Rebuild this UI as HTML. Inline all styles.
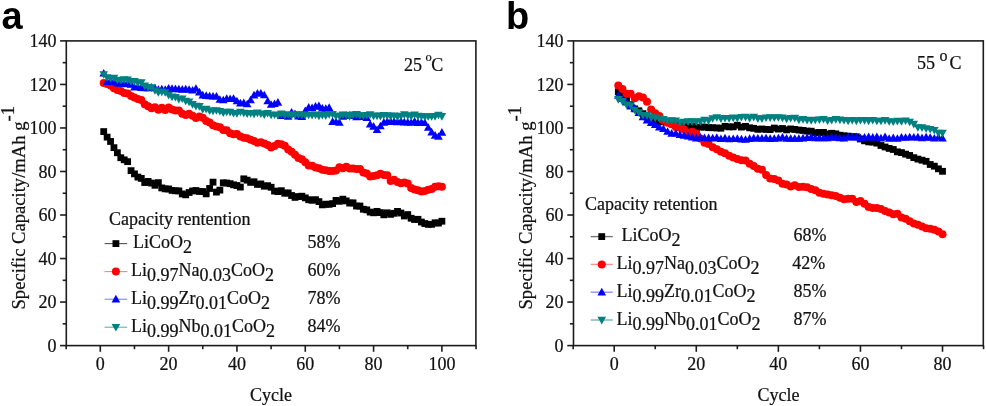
<!DOCTYPE html><html><head><meta charset="utf-8"><style>html,body{margin:0;padding:0;background:#fff;}svg{display:block;will-change:transform;}</style></head><body><svg width="986" height="406" viewBox="0 0 986 406" font-family="Liberation Serif, serif" font-size="18" fill="#111" stroke="#111" stroke-width="0.22"><rect width="986" height="406" fill="#fff" stroke="none"/><text x="1.4" y="28.8" font-family="Liberation Sans, sans-serif" font-weight="bold" font-size="38" fill="#000" stroke="none">a</text><text x="505.9" y="28.8" font-family="Liberation Sans, sans-serif" font-weight="bold" font-size="38" fill="#000" stroke="none">b</text><rect x="100.32" y="128.18" width="6.8" height="6.8" fill="#000000" stroke="none"/><rect x="103.73" y="133.73" width="6.8" height="6.8" fill="#000000" stroke="none"/><rect x="107.15" y="138.06" width="6.8" height="6.8" fill="#000000" stroke="none"/><rect x="110.56" y="144.25" width="6.8" height="6.8" fill="#000000" stroke="none"/><rect x="113.98" y="149.34" width="6.8" height="6.8" fill="#000000" stroke="none"/><rect x="117.40" y="154.33" width="6.8" height="6.8" fill="#000000" stroke="none"/><rect x="120.81" y="156.42" width="6.8" height="6.8" fill="#000000" stroke="none"/><rect x="124.23" y="158.26" width="6.8" height="6.8" fill="#000000" stroke="none"/><rect x="127.64" y="167.25" width="6.8" height="6.8" fill="#000000" stroke="none"/><rect x="131.06" y="170.46" width="6.8" height="6.8" fill="#000000" stroke="none"/><rect x="134.48" y="173.68" width="6.8" height="6.8" fill="#000000" stroke="none"/><rect x="137.89" y="175.00" width="6.8" height="6.8" fill="#000000" stroke="none"/><rect x="141.31" y="179.13" width="6.8" height="6.8" fill="#000000" stroke="none"/><rect x="144.72" y="178.02" width="6.8" height="6.8" fill="#000000" stroke="none"/><rect x="148.14" y="179.68" width="6.8" height="6.8" fill="#000000" stroke="none"/><rect x="151.56" y="181.89" width="6.8" height="6.8" fill="#000000" stroke="none"/><rect x="154.97" y="179.24" width="6.8" height="6.8" fill="#000000" stroke="none"/><rect x="158.39" y="184.52" width="6.8" height="6.8" fill="#000000" stroke="none"/><rect x="161.80" y="185.46" width="6.8" height="6.8" fill="#000000" stroke="none"/><rect x="165.22" y="185.58" width="6.8" height="6.8" fill="#000000" stroke="none"/><rect x="168.64" y="186.98" width="6.8" height="6.8" fill="#000000" stroke="none"/><rect x="172.05" y="187.41" width="6.8" height="6.8" fill="#000000" stroke="none"/><rect x="175.47" y="187.48" width="6.8" height="6.8" fill="#000000" stroke="none"/><rect x="178.88" y="190.54" width="6.8" height="6.8" fill="#000000" stroke="none"/><rect x="182.30" y="191.45" width="6.8" height="6.8" fill="#000000" stroke="none"/><rect x="185.72" y="189.11" width="6.8" height="6.8" fill="#000000" stroke="none"/><rect x="189.13" y="187.58" width="6.8" height="6.8" fill="#000000" stroke="none"/><rect x="192.55" y="187.13" width="6.8" height="6.8" fill="#000000" stroke="none"/><rect x="195.96" y="188.07" width="6.8" height="6.8" fill="#000000" stroke="none"/><rect x="199.38" y="188.15" width="6.8" height="6.8" fill="#000000" stroke="none"/><rect x="202.80" y="190.44" width="6.8" height="6.8" fill="#000000" stroke="none"/><rect x="206.21" y="185.07" width="6.8" height="6.8" fill="#000000" stroke="none"/><rect x="209.63" y="178.75" width="6.8" height="6.8" fill="#000000" stroke="none"/><rect x="213.04" y="188.70" width="6.8" height="6.8" fill="#000000" stroke="none"/><rect x="216.46" y="186.72" width="6.8" height="6.8" fill="#000000" stroke="none"/><rect x="219.88" y="179.43" width="6.8" height="6.8" fill="#000000" stroke="none"/><rect x="223.29" y="179.63" width="6.8" height="6.8" fill="#000000" stroke="none"/><rect x="226.71" y="180.29" width="6.8" height="6.8" fill="#000000" stroke="none"/><rect x="230.12" y="181.41" width="6.8" height="6.8" fill="#000000" stroke="none"/><rect x="233.54" y="182.14" width="6.8" height="6.8" fill="#000000" stroke="none"/><rect x="236.96" y="183.67" width="6.8" height="6.8" fill="#000000" stroke="none"/><rect x="240.37" y="175.44" width="6.8" height="6.8" fill="#000000" stroke="none"/><rect x="243.79" y="176.78" width="6.8" height="6.8" fill="#000000" stroke="none"/><rect x="247.20" y="178.97" width="6.8" height="6.8" fill="#000000" stroke="none"/><rect x="250.62" y="178.37" width="6.8" height="6.8" fill="#000000" stroke="none"/><rect x="254.04" y="181.01" width="6.8" height="6.8" fill="#000000" stroke="none"/><rect x="257.45" y="180.52" width="6.8" height="6.8" fill="#000000" stroke="none"/><rect x="260.87" y="182.80" width="6.8" height="6.8" fill="#000000" stroke="none"/><rect x="264.28" y="182.29" width="6.8" height="6.8" fill="#000000" stroke="none"/><rect x="267.70" y="183.86" width="6.8" height="6.8" fill="#000000" stroke="none"/><rect x="271.12" y="187.67" width="6.8" height="6.8" fill="#000000" stroke="none"/><rect x="274.53" y="188.23" width="6.8" height="6.8" fill="#000000" stroke="none"/><rect x="277.95" y="187.29" width="6.8" height="6.8" fill="#000000" stroke="none"/><rect x="281.36" y="189.83" width="6.8" height="6.8" fill="#000000" stroke="none"/><rect x="284.78" y="189.47" width="6.8" height="6.8" fill="#000000" stroke="none"/><rect x="288.20" y="192.12" width="6.8" height="6.8" fill="#000000" stroke="none"/><rect x="291.61" y="193.98" width="6.8" height="6.8" fill="#000000" stroke="none"/><rect x="295.03" y="193.16" width="6.8" height="6.8" fill="#000000" stroke="none"/><rect x="298.44" y="192.81" width="6.8" height="6.8" fill="#000000" stroke="none"/><rect x="301.86" y="194.47" width="6.8" height="6.8" fill="#000000" stroke="none"/><rect x="305.28" y="196.33" width="6.8" height="6.8" fill="#000000" stroke="none"/><rect x="308.69" y="196.89" width="6.8" height="6.8" fill="#000000" stroke="none"/><rect x="312.11" y="196.27" width="6.8" height="6.8" fill="#000000" stroke="none"/><rect x="315.52" y="198.20" width="6.8" height="6.8" fill="#000000" stroke="none"/><rect x="318.94" y="201.46" width="6.8" height="6.8" fill="#000000" stroke="none"/><rect x="322.36" y="200.77" width="6.8" height="6.8" fill="#000000" stroke="none"/><rect x="325.77" y="200.92" width="6.8" height="6.8" fill="#000000" stroke="none"/><rect x="329.19" y="200.21" width="6.8" height="6.8" fill="#000000" stroke="none"/><rect x="332.60" y="196.99" width="6.8" height="6.8" fill="#000000" stroke="none"/><rect x="336.02" y="197.90" width="6.8" height="6.8" fill="#000000" stroke="none"/><rect x="339.44" y="195.76" width="6.8" height="6.8" fill="#000000" stroke="none"/><rect x="342.85" y="197.50" width="6.8" height="6.8" fill="#000000" stroke="none"/><rect x="346.27" y="199.68" width="6.8" height="6.8" fill="#000000" stroke="none"/><rect x="349.68" y="199.43" width="6.8" height="6.8" fill="#000000" stroke="none"/><rect x="353.10" y="202.66" width="6.8" height="6.8" fill="#000000" stroke="none"/><rect x="356.52" y="202.64" width="6.8" height="6.8" fill="#000000" stroke="none"/><rect x="359.93" y="205.83" width="6.8" height="6.8" fill="#000000" stroke="none"/><rect x="363.35" y="206.48" width="6.8" height="6.8" fill="#000000" stroke="none"/><rect x="366.76" y="208.69" width="6.8" height="6.8" fill="#000000" stroke="none"/><rect x="370.18" y="209.40" width="6.8" height="6.8" fill="#000000" stroke="none"/><rect x="373.60" y="207.97" width="6.8" height="6.8" fill="#000000" stroke="none"/><rect x="377.01" y="209.19" width="6.8" height="6.8" fill="#000000" stroke="none"/><rect x="380.43" y="211.42" width="6.8" height="6.8" fill="#000000" stroke="none"/><rect x="383.84" y="209.40" width="6.8" height="6.8" fill="#000000" stroke="none"/><rect x="387.26" y="210.96" width="6.8" height="6.8" fill="#000000" stroke="none"/><rect x="390.68" y="209.91" width="6.8" height="6.8" fill="#000000" stroke="none"/><rect x="394.09" y="208.02" width="6.8" height="6.8" fill="#000000" stroke="none"/><rect x="397.51" y="209.62" width="6.8" height="6.8" fill="#000000" stroke="none"/><rect x="400.92" y="212.57" width="6.8" height="6.8" fill="#000000" stroke="none"/><rect x="404.34" y="211.17" width="6.8" height="6.8" fill="#000000" stroke="none"/><rect x="407.76" y="214.84" width="6.8" height="6.8" fill="#000000" stroke="none"/><rect x="411.17" y="216.08" width="6.8" height="6.8" fill="#000000" stroke="none"/><rect x="414.59" y="215.91" width="6.8" height="6.8" fill="#000000" stroke="none"/><rect x="418.00" y="218.65" width="6.8" height="6.8" fill="#000000" stroke="none"/><rect x="421.42" y="220.15" width="6.8" height="6.8" fill="#000000" stroke="none"/><rect x="424.84" y="220.97" width="6.8" height="6.8" fill="#000000" stroke="none"/><rect x="428.25" y="220.92" width="6.8" height="6.8" fill="#000000" stroke="none"/><rect x="431.67" y="219.41" width="6.8" height="6.8" fill="#000000" stroke="none"/><rect x="435.08" y="219.69" width="6.8" height="6.8" fill="#000000" stroke="none"/><rect x="438.50" y="217.83" width="6.8" height="6.8" fill="#000000" stroke="none"/><circle cx="103.72" cy="82.97" r="4.0" fill="#ff0000" stroke="none"/><circle cx="107.13" cy="84.02" r="4.0" fill="#ff0000" stroke="none"/><circle cx="110.55" cy="85.52" r="4.0" fill="#ff0000" stroke="none"/><circle cx="113.96" cy="88.30" r="4.0" fill="#ff0000" stroke="none"/><circle cx="117.38" cy="90.06" r="4.0" fill="#ff0000" stroke="none"/><circle cx="120.80" cy="90.92" r="4.0" fill="#ff0000" stroke="none"/><circle cx="124.21" cy="93.00" r="4.0" fill="#ff0000" stroke="none"/><circle cx="127.63" cy="93.41" r="4.0" fill="#ff0000" stroke="none"/><circle cx="131.04" cy="95.90" r="4.0" fill="#ff0000" stroke="none"/><circle cx="134.46" cy="97.51" r="4.0" fill="#ff0000" stroke="none"/><circle cx="137.88" cy="99.00" r="4.0" fill="#ff0000" stroke="none"/><circle cx="141.29" cy="100.11" r="4.0" fill="#ff0000" stroke="none"/><circle cx="144.71" cy="104.29" r="4.0" fill="#ff0000" stroke="none"/><circle cx="148.12" cy="106.35" r="4.0" fill="#ff0000" stroke="none"/><circle cx="151.54" cy="108.16" r="4.0" fill="#ff0000" stroke="none"/><circle cx="154.96" cy="107.31" r="4.0" fill="#ff0000" stroke="none"/><circle cx="158.37" cy="109.67" r="4.0" fill="#ff0000" stroke="none"/><circle cx="161.79" cy="107.83" r="4.0" fill="#ff0000" stroke="none"/><circle cx="165.20" cy="109.92" r="4.0" fill="#ff0000" stroke="none"/><circle cx="168.62" cy="107.45" r="4.0" fill="#ff0000" stroke="none"/><circle cx="172.04" cy="109.52" r="4.0" fill="#ff0000" stroke="none"/><circle cx="175.45" cy="110.50" r="4.0" fill="#ff0000" stroke="none"/><circle cx="178.87" cy="110.52" r="4.0" fill="#ff0000" stroke="none"/><circle cx="182.28" cy="113.83" r="4.0" fill="#ff0000" stroke="none"/><circle cx="185.70" cy="114.88" r="4.0" fill="#ff0000" stroke="none"/><circle cx="189.12" cy="113.81" r="4.0" fill="#ff0000" stroke="none"/><circle cx="192.53" cy="115.87" r="4.0" fill="#ff0000" stroke="none"/><circle cx="195.95" cy="117.96" r="4.0" fill="#ff0000" stroke="none"/><circle cx="199.36" cy="116.62" r="4.0" fill="#ff0000" stroke="none"/><circle cx="202.78" cy="117.72" r="4.0" fill="#ff0000" stroke="none"/><circle cx="206.20" cy="121.12" r="4.0" fill="#ff0000" stroke="none"/><circle cx="209.61" cy="122.40" r="4.0" fill="#ff0000" stroke="none"/><circle cx="213.03" cy="125.25" r="4.0" fill="#ff0000" stroke="none"/><circle cx="216.44" cy="126.59" r="4.0" fill="#ff0000" stroke="none"/><circle cx="219.86" cy="127.31" r="4.0" fill="#ff0000" stroke="none"/><circle cx="223.28" cy="130.02" r="4.0" fill="#ff0000" stroke="none"/><circle cx="226.69" cy="130.15" r="4.0" fill="#ff0000" stroke="none"/><circle cx="230.11" cy="133.31" r="4.0" fill="#ff0000" stroke="none"/><circle cx="233.52" cy="134.34" r="4.0" fill="#ff0000" stroke="none"/><circle cx="236.94" cy="133.99" r="4.0" fill="#ff0000" stroke="none"/><circle cx="240.36" cy="136.41" r="4.0" fill="#ff0000" stroke="none"/><circle cx="243.77" cy="137.70" r="4.0" fill="#ff0000" stroke="none"/><circle cx="247.19" cy="138.31" r="4.0" fill="#ff0000" stroke="none"/><circle cx="250.60" cy="139.63" r="4.0" fill="#ff0000" stroke="none"/><circle cx="254.02" cy="140.89" r="4.0" fill="#ff0000" stroke="none"/><circle cx="257.44" cy="142.82" r="4.0" fill="#ff0000" stroke="none"/><circle cx="260.85" cy="142.35" r="4.0" fill="#ff0000" stroke="none"/><circle cx="264.27" cy="143.40" r="4.0" fill="#ff0000" stroke="none"/><circle cx="267.68" cy="145.06" r="4.0" fill="#ff0000" stroke="none"/><circle cx="271.10" cy="147.55" r="4.0" fill="#ff0000" stroke="none"/><circle cx="274.52" cy="146.07" r="4.0" fill="#ff0000" stroke="none"/><circle cx="277.93" cy="143.77" r="4.0" fill="#ff0000" stroke="none"/><circle cx="281.35" cy="144.33" r="4.0" fill="#ff0000" stroke="none"/><circle cx="284.76" cy="145.79" r="4.0" fill="#ff0000" stroke="none"/><circle cx="288.18" cy="149.61" r="4.0" fill="#ff0000" stroke="none"/><circle cx="291.60" cy="151.65" r="4.0" fill="#ff0000" stroke="none"/><circle cx="295.01" cy="154.77" r="4.0" fill="#ff0000" stroke="none"/><circle cx="298.43" cy="157.95" r="4.0" fill="#ff0000" stroke="none"/><circle cx="301.84" cy="159.29" r="4.0" fill="#ff0000" stroke="none"/><circle cx="305.26" cy="162.23" r="4.0" fill="#ff0000" stroke="none"/><circle cx="308.68" cy="165.59" r="4.0" fill="#ff0000" stroke="none"/><circle cx="312.09" cy="165.64" r="4.0" fill="#ff0000" stroke="none"/><circle cx="315.51" cy="167.53" r="4.0" fill="#ff0000" stroke="none"/><circle cx="318.92" cy="168.17" r="4.0" fill="#ff0000" stroke="none"/><circle cx="322.34" cy="169.82" r="4.0" fill="#ff0000" stroke="none"/><circle cx="325.76" cy="170.15" r="4.0" fill="#ff0000" stroke="none"/><circle cx="329.17" cy="171.12" r="4.0" fill="#ff0000" stroke="none"/><circle cx="332.59" cy="170.99" r="4.0" fill="#ff0000" stroke="none"/><circle cx="336.00" cy="170.56" r="4.0" fill="#ff0000" stroke="none"/><circle cx="339.42" cy="167.22" r="4.0" fill="#ff0000" stroke="none"/><circle cx="342.84" cy="168.19" r="4.0" fill="#ff0000" stroke="none"/><circle cx="346.25" cy="166.84" r="4.0" fill="#ff0000" stroke="none"/><circle cx="349.67" cy="168.56" r="4.0" fill="#ff0000" stroke="none"/><circle cx="353.08" cy="168.59" r="4.0" fill="#ff0000" stroke="none"/><circle cx="356.50" cy="169.06" r="4.0" fill="#ff0000" stroke="none"/><circle cx="359.92" cy="168.95" r="4.0" fill="#ff0000" stroke="none"/><circle cx="363.33" cy="172.58" r="4.0" fill="#ff0000" stroke="none"/><circle cx="366.75" cy="173.62" r="4.0" fill="#ff0000" stroke="none"/><circle cx="370.16" cy="176.38" r="4.0" fill="#ff0000" stroke="none"/><circle cx="373.58" cy="176.00" r="4.0" fill="#ff0000" stroke="none"/><circle cx="377.00" cy="175.30" r="4.0" fill="#ff0000" stroke="none"/><circle cx="380.41" cy="173.84" r="4.0" fill="#ff0000" stroke="none"/><circle cx="383.83" cy="174.90" r="4.0" fill="#ff0000" stroke="none"/><circle cx="387.24" cy="175.37" r="4.0" fill="#ff0000" stroke="none"/><circle cx="390.66" cy="181.06" r="4.0" fill="#ff0000" stroke="none"/><circle cx="394.08" cy="179.81" r="4.0" fill="#ff0000" stroke="none"/><circle cx="397.49" cy="182.00" r="4.0" fill="#ff0000" stroke="none"/><circle cx="400.91" cy="183.18" r="4.0" fill="#ff0000" stroke="none"/><circle cx="404.32" cy="182.44" r="4.0" fill="#ff0000" stroke="none"/><circle cx="407.74" cy="183.47" r="4.0" fill="#ff0000" stroke="none"/><circle cx="411.16" cy="188.01" r="4.0" fill="#ff0000" stroke="none"/><circle cx="414.57" cy="189.50" r="4.0" fill="#ff0000" stroke="none"/><circle cx="417.99" cy="190.37" r="4.0" fill="#ff0000" stroke="none"/><circle cx="421.40" cy="191.49" r="4.0" fill="#ff0000" stroke="none"/><circle cx="424.82" cy="190.88" r="4.0" fill="#ff0000" stroke="none"/><circle cx="428.24" cy="189.75" r="4.0" fill="#ff0000" stroke="none"/><circle cx="431.65" cy="189.01" r="4.0" fill="#ff0000" stroke="none"/><circle cx="435.07" cy="186.85" r="4.0" fill="#ff0000" stroke="none"/><circle cx="438.48" cy="186.33" r="4.0" fill="#ff0000" stroke="none"/><circle cx="441.90" cy="186.72" r="4.0" fill="#ff0000" stroke="none"/><path d="M103.72 69.01L108.02 76.61L99.42 76.61Z" fill="#0000ff" stroke="none"/><path d="M107.13 77.44L111.43 85.04L102.83 85.04Z" fill="#0000ff" stroke="none"/><path d="M110.55 77.59L114.85 85.19L106.25 85.19Z" fill="#0000ff" stroke="none"/><path d="M113.96 77.37L118.26 84.97L109.66 84.97Z" fill="#0000ff" stroke="none"/><path d="M117.38 78.96L121.68 86.56L113.08 86.56Z" fill="#0000ff" stroke="none"/><path d="M120.80 79.08L125.10 86.68L116.50 86.68Z" fill="#0000ff" stroke="none"/><path d="M124.21 79.48L128.51 87.08L119.91 87.08Z" fill="#0000ff" stroke="none"/><path d="M127.63 79.53L131.93 87.13L123.33 87.13Z" fill="#0000ff" stroke="none"/><path d="M131.04 80.06L135.34 87.66L126.74 87.66Z" fill="#0000ff" stroke="none"/><path d="M134.46 83.00L138.76 90.60L130.16 90.60Z" fill="#0000ff" stroke="none"/><path d="M137.88 82.43L142.18 90.03L133.58 90.03Z" fill="#0000ff" stroke="none"/><path d="M141.29 83.43L145.59 91.03L136.99 91.03Z" fill="#0000ff" stroke="none"/><path d="M144.71 83.56L149.01 91.16L140.41 91.16Z" fill="#0000ff" stroke="none"/><path d="M148.12 83.56L152.42 91.16L143.82 91.16Z" fill="#0000ff" stroke="none"/><path d="M151.54 82.99L155.84 90.59L147.24 90.59Z" fill="#0000ff" stroke="none"/><path d="M154.96 83.70L159.26 91.30L150.66 91.30Z" fill="#0000ff" stroke="none"/><path d="M158.37 85.21L162.67 92.81L154.07 92.81Z" fill="#0000ff" stroke="none"/><path d="M161.79 84.86L166.09 92.46L157.49 92.46Z" fill="#0000ff" stroke="none"/><path d="M165.20 85.36L169.50 92.96L160.90 92.96Z" fill="#0000ff" stroke="none"/><path d="M168.62 84.00L172.92 91.60L164.32 91.60Z" fill="#0000ff" stroke="none"/><path d="M172.04 84.35L176.34 91.95L167.74 91.95Z" fill="#0000ff" stroke="none"/><path d="M175.45 84.58L179.75 92.18L171.15 92.18Z" fill="#0000ff" stroke="none"/><path d="M178.87 84.70L183.17 92.30L174.57 92.30Z" fill="#0000ff" stroke="none"/><path d="M182.28 85.04L186.58 92.64L177.98 92.64Z" fill="#0000ff" stroke="none"/><path d="M185.70 84.76L190.00 92.36L181.40 92.36Z" fill="#0000ff" stroke="none"/><path d="M189.12 85.26L193.42 92.86L184.82 92.86Z" fill="#0000ff" stroke="none"/><path d="M192.53 85.99L196.83 93.59L188.23 93.59Z" fill="#0000ff" stroke="none"/><path d="M195.95 84.26L200.25 91.86L191.65 91.86Z" fill="#0000ff" stroke="none"/><path d="M199.36 87.81L203.66 95.41L195.06 95.41Z" fill="#0000ff" stroke="none"/><path d="M202.78 90.82L207.08 98.42L198.48 98.42Z" fill="#0000ff" stroke="none"/><path d="M206.20 91.34L210.50 98.94L201.90 98.94Z" fill="#0000ff" stroke="none"/><path d="M209.61 91.73L213.91 99.33L205.31 99.33Z" fill="#0000ff" stroke="none"/><path d="M213.03 91.97L217.33 99.57L208.73 99.57Z" fill="#0000ff" stroke="none"/><path d="M216.44 91.93L220.74 99.53L212.14 99.53Z" fill="#0000ff" stroke="none"/><path d="M219.86 95.23L224.16 102.83L215.56 102.83Z" fill="#0000ff" stroke="none"/><path d="M223.28 95.75L227.58 103.35L218.98 103.35Z" fill="#0000ff" stroke="none"/><path d="M226.69 94.32L230.99 101.92L222.39 101.92Z" fill="#0000ff" stroke="none"/><path d="M230.11 94.46L234.41 102.06L225.81 102.06Z" fill="#0000ff" stroke="none"/><path d="M233.52 94.15L237.82 101.75L229.22 101.75Z" fill="#0000ff" stroke="none"/><path d="M236.94 96.69L241.24 104.29L232.64 104.29Z" fill="#0000ff" stroke="none"/><path d="M240.36 98.84L244.66 106.44L236.06 106.44Z" fill="#0000ff" stroke="none"/><path d="M243.77 98.41L248.07 106.01L239.47 106.01Z" fill="#0000ff" stroke="none"/><path d="M247.19 99.75L251.49 107.35L242.89 107.35Z" fill="#0000ff" stroke="none"/><path d="M250.60 95.63L254.90 103.23L246.30 103.23Z" fill="#0000ff" stroke="none"/><path d="M254.02 90.81L258.32 98.41L249.72 98.41Z" fill="#0000ff" stroke="none"/><path d="M257.44 88.99L261.74 96.59L253.14 96.59Z" fill="#0000ff" stroke="none"/><path d="M260.85 88.94L265.15 96.54L256.55 96.54Z" fill="#0000ff" stroke="none"/><path d="M264.27 90.71L268.57 98.31L259.97 98.31Z" fill="#0000ff" stroke="none"/><path d="M267.68 96.66L271.98 104.26L263.38 104.26Z" fill="#0000ff" stroke="none"/><path d="M271.10 100.13L275.40 107.73L266.80 107.73Z" fill="#0000ff" stroke="none"/><path d="M274.52 99.38L278.82 106.98L270.22 106.98Z" fill="#0000ff" stroke="none"/><path d="M277.93 98.09L282.23 105.69L273.63 105.69Z" fill="#0000ff" stroke="none"/><path d="M281.35 111.29L285.65 118.89L277.05 118.89Z" fill="#0000ff" stroke="none"/><path d="M284.76 111.05L289.06 118.65L280.46 118.65Z" fill="#0000ff" stroke="none"/><path d="M288.18 112.15L292.48 119.75L283.88 119.75Z" fill="#0000ff" stroke="none"/><path d="M291.60 107.96L295.90 115.56L287.30 115.56Z" fill="#0000ff" stroke="none"/><path d="M295.01 109.57L299.31 117.17L290.71 117.17Z" fill="#0000ff" stroke="none"/><path d="M298.43 111.87L302.73 119.47L294.13 119.47Z" fill="#0000ff" stroke="none"/><path d="M301.84 112.51L306.14 120.11L297.54 120.11Z" fill="#0000ff" stroke="none"/><path d="M305.26 106.46L309.56 114.06L300.96 114.06Z" fill="#0000ff" stroke="none"/><path d="M308.68 103.05L312.98 110.65L304.38 110.65Z" fill="#0000ff" stroke="none"/><path d="M312.09 103.55L316.39 111.15L307.79 111.15Z" fill="#0000ff" stroke="none"/><path d="M315.51 102.11L319.81 109.71L311.21 109.71Z" fill="#0000ff" stroke="none"/><path d="M318.92 101.53L323.22 109.13L314.62 109.13Z" fill="#0000ff" stroke="none"/><path d="M322.34 103.96L326.64 111.56L318.04 111.56Z" fill="#0000ff" stroke="none"/><path d="M325.76 104.24L330.06 111.84L321.46 111.84Z" fill="#0000ff" stroke="none"/><path d="M329.17 103.30L333.47 110.90L324.87 110.90Z" fill="#0000ff" stroke="none"/><path d="M332.59 117.31L336.89 124.91L328.29 124.91Z" fill="#0000ff" stroke="none"/><path d="M336.00 117.45L340.30 125.05L331.70 125.05Z" fill="#0000ff" stroke="none"/><path d="M339.42 118.20L343.72 125.80L335.12 125.80Z" fill="#0000ff" stroke="none"/><path d="M342.84 112.20L347.14 119.80L338.54 119.80Z" fill="#0000ff" stroke="none"/><path d="M346.25 111.21L350.55 118.81L341.95 118.81Z" fill="#0000ff" stroke="none"/><path d="M349.67 111.17L353.97 118.77L345.37 118.77Z" fill="#0000ff" stroke="none"/><path d="M353.08 111.35L357.38 118.95L348.78 118.95Z" fill="#0000ff" stroke="none"/><path d="M356.50 112.66L360.80 120.26L352.20 120.26Z" fill="#0000ff" stroke="none"/><path d="M359.92 111.24L364.22 118.84L355.62 118.84Z" fill="#0000ff" stroke="none"/><path d="M363.33 112.29L367.63 119.89L359.03 119.89Z" fill="#0000ff" stroke="none"/><path d="M366.75 113.28L371.05 120.88L362.45 120.88Z" fill="#0000ff" stroke="none"/><path d="M370.16 119.99L374.46 127.59L365.86 127.59Z" fill="#0000ff" stroke="none"/><path d="M373.58 122.09L377.88 129.69L369.28 129.69Z" fill="#0000ff" stroke="none"/><path d="M377.00 125.50L381.30 133.10L372.70 133.10Z" fill="#0000ff" stroke="none"/><path d="M380.41 121.76L384.71 129.36L376.11 129.36Z" fill="#0000ff" stroke="none"/><path d="M383.83 118.08L388.13 125.68L379.53 125.68Z" fill="#0000ff" stroke="none"/><path d="M387.24 117.20L391.54 124.80L382.94 124.80Z" fill="#0000ff" stroke="none"/><path d="M390.66 117.28L394.96 124.88L386.36 124.88Z" fill="#0000ff" stroke="none"/><path d="M394.08 117.26L398.38 124.86L389.78 124.86Z" fill="#0000ff" stroke="none"/><path d="M397.49 117.76L401.79 125.36L393.19 125.36Z" fill="#0000ff" stroke="none"/><path d="M400.91 116.96L405.21 124.56L396.61 124.56Z" fill="#0000ff" stroke="none"/><path d="M404.32 117.80L408.62 125.40L400.02 125.40Z" fill="#0000ff" stroke="none"/><path d="M407.74 117.90L412.04 125.50L403.44 125.50Z" fill="#0000ff" stroke="none"/><path d="M411.16 118.19L415.46 125.79L406.86 125.79Z" fill="#0000ff" stroke="none"/><path d="M414.57 117.05L418.87 124.65L410.27 124.65Z" fill="#0000ff" stroke="none"/><path d="M417.99 118.30L422.29 125.90L413.69 125.90Z" fill="#0000ff" stroke="none"/><path d="M421.40 118.05L425.70 125.65L417.10 125.65Z" fill="#0000ff" stroke="none"/><path d="M424.82 118.39L429.12 125.99L420.52 125.99Z" fill="#0000ff" stroke="none"/><path d="M428.24 123.24L432.54 130.84L423.94 130.84Z" fill="#0000ff" stroke="none"/><path d="M431.65 127.78L435.95 135.38L427.35 135.38Z" fill="#0000ff" stroke="none"/><path d="M435.07 131.07L439.37 138.67L430.77 138.67Z" fill="#0000ff" stroke="none"/><path d="M438.48 132.17L442.78 139.77L434.18 139.77Z" fill="#0000ff" stroke="none"/><path d="M441.90 128.03L446.20 135.63L437.60 135.63Z" fill="#0000ff" stroke="none"/><path d="M103.72 78.81L108.02 71.21L99.42 71.21Z" fill="#008080" stroke="none"/><path d="M107.13 81.87L111.43 74.27L102.83 74.27Z" fill="#008080" stroke="none"/><path d="M110.55 82.48L114.85 74.88L106.25 74.88Z" fill="#008080" stroke="none"/><path d="M113.96 82.36L118.26 74.76L109.66 74.76Z" fill="#008080" stroke="none"/><path d="M117.38 84.33L121.68 76.73L113.08 76.73Z" fill="#008080" stroke="none"/><path d="M120.80 84.58L125.10 76.98L116.50 76.98Z" fill="#008080" stroke="none"/><path d="M124.21 83.76L128.51 76.16L119.91 76.16Z" fill="#008080" stroke="none"/><path d="M127.63 84.14L131.93 76.54L123.33 76.54Z" fill="#008080" stroke="none"/><path d="M131.04 85.67L135.34 78.07L126.74 78.07Z" fill="#008080" stroke="none"/><path d="M134.46 85.61L138.76 78.01L130.16 78.01Z" fill="#008080" stroke="none"/><path d="M137.88 86.99L142.18 79.39L133.58 79.39Z" fill="#008080" stroke="none"/><path d="M141.29 86.93L145.59 79.33L136.99 79.33Z" fill="#008080" stroke="none"/><path d="M144.71 90.13L149.01 82.53L140.41 82.53Z" fill="#008080" stroke="none"/><path d="M148.12 91.67L152.42 84.07L143.82 84.07Z" fill="#008080" stroke="none"/><path d="M151.54 91.96L155.84 84.36L147.24 84.36Z" fill="#008080" stroke="none"/><path d="M154.96 94.82L159.26 87.22L150.66 87.22Z" fill="#008080" stroke="none"/><path d="M158.37 96.70L162.67 89.10L154.07 89.10Z" fill="#008080" stroke="none"/><path d="M161.79 96.19L166.09 88.59L157.49 88.59Z" fill="#008080" stroke="none"/><path d="M165.20 96.82L169.50 89.22L160.90 89.22Z" fill="#008080" stroke="none"/><path d="M168.62 99.39L172.92 91.79L164.32 91.79Z" fill="#008080" stroke="none"/><path d="M172.04 101.13L176.34 93.53L167.74 93.53Z" fill="#008080" stroke="none"/><path d="M175.45 101.61L179.75 94.01L171.15 94.01Z" fill="#008080" stroke="none"/><path d="M178.87 103.42L183.17 95.82L174.57 95.82Z" fill="#008080" stroke="none"/><path d="M182.28 103.09L186.58 95.49L177.98 95.49Z" fill="#008080" stroke="none"/><path d="M185.70 105.25L190.00 97.65L181.40 97.65Z" fill="#008080" stroke="none"/><path d="M189.12 106.22L193.42 98.62L184.82 98.62Z" fill="#008080" stroke="none"/><path d="M192.53 108.65L196.83 101.05L188.23 101.05Z" fill="#008080" stroke="none"/><path d="M195.95 110.45L200.25 102.85L191.65 102.85Z" fill="#008080" stroke="none"/><path d="M199.36 110.68L203.66 103.08L195.06 103.08Z" fill="#008080" stroke="none"/><path d="M202.78 113.65L207.08 106.05L198.48 106.05Z" fill="#008080" stroke="none"/><path d="M206.20 113.45L210.50 105.85L201.90 105.85Z" fill="#008080" stroke="none"/><path d="M209.61 115.09L213.91 107.49L205.31 107.49Z" fill="#008080" stroke="none"/><path d="M213.03 115.15L217.33 107.55L208.73 107.55Z" fill="#008080" stroke="none"/><path d="M216.44 114.84L220.74 107.24L212.14 107.24Z" fill="#008080" stroke="none"/><path d="M219.86 115.50L224.16 107.90L215.56 107.90Z" fill="#008080" stroke="none"/><path d="M223.28 117.02L227.58 109.42L218.98 109.42Z" fill="#008080" stroke="none"/><path d="M226.69 116.24L230.99 108.64L222.39 108.64Z" fill="#008080" stroke="none"/><path d="M230.11 116.40L234.41 108.80L225.81 108.80Z" fill="#008080" stroke="none"/><path d="M233.52 117.53L237.82 109.93L229.22 109.93Z" fill="#008080" stroke="none"/><path d="M236.94 117.87L241.24 110.27L232.64 110.27Z" fill="#008080" stroke="none"/><path d="M240.36 116.31L244.66 108.71L236.06 108.71Z" fill="#008080" stroke="none"/><path d="M243.77 117.25L248.07 109.65L239.47 109.65Z" fill="#008080" stroke="none"/><path d="M247.19 118.09L251.49 110.49L242.89 110.49Z" fill="#008080" stroke="none"/><path d="M250.60 117.67L254.90 110.07L246.30 110.07Z" fill="#008080" stroke="none"/><path d="M254.02 118.32L258.32 110.72L249.72 110.72Z" fill="#008080" stroke="none"/><path d="M257.44 117.21L261.74 109.61L253.14 109.61Z" fill="#008080" stroke="none"/><path d="M260.85 118.00L265.15 110.40L256.55 110.40Z" fill="#008080" stroke="none"/><path d="M264.27 119.01L268.57 111.41L259.97 111.41Z" fill="#008080" stroke="none"/><path d="M267.68 117.60L271.98 110.00L263.38 110.00Z" fill="#008080" stroke="none"/><path d="M271.10 119.33L275.40 111.73L266.80 111.73Z" fill="#008080" stroke="none"/><path d="M274.52 119.00L278.82 111.40L270.22 111.40Z" fill="#008080" stroke="none"/><path d="M277.93 119.64L282.23 112.04L273.63 112.04Z" fill="#008080" stroke="none"/><path d="M281.35 118.17L285.65 110.57L277.05 110.57Z" fill="#008080" stroke="none"/><path d="M284.76 119.62L289.06 112.02L280.46 112.02Z" fill="#008080" stroke="none"/><path d="M288.18 118.82L292.48 111.22L283.88 111.22Z" fill="#008080" stroke="none"/><path d="M291.60 119.84L295.90 112.24L287.30 112.24Z" fill="#008080" stroke="none"/><path d="M295.01 119.09L299.31 111.49L290.71 111.49Z" fill="#008080" stroke="none"/><path d="M298.43 118.73L302.73 111.13L294.13 111.13Z" fill="#008080" stroke="none"/><path d="M301.84 119.14L306.14 111.54L297.54 111.54Z" fill="#008080" stroke="none"/><path d="M305.26 119.40L309.56 111.80L300.96 111.80Z" fill="#008080" stroke="none"/><path d="M308.68 119.36L312.98 111.76L304.38 111.76Z" fill="#008080" stroke="none"/><path d="M312.09 119.49L316.39 111.89L307.79 111.89Z" fill="#008080" stroke="none"/><path d="M315.51 119.16L319.81 111.56L311.21 111.56Z" fill="#008080" stroke="none"/><path d="M318.92 120.28L323.22 112.68L314.62 112.68Z" fill="#008080" stroke="none"/><path d="M322.34 119.47L326.64 111.87L318.04 111.87Z" fill="#008080" stroke="none"/><path d="M325.76 120.01L330.06 112.41L321.46 112.41Z" fill="#008080" stroke="none"/><path d="M329.17 118.66L333.47 111.06L324.87 111.06Z" fill="#008080" stroke="none"/><path d="M332.59 118.53L336.89 110.93L328.29 110.93Z" fill="#008080" stroke="none"/><path d="M336.00 120.45L340.30 112.85L331.70 112.85Z" fill="#008080" stroke="none"/><path d="M339.42 120.30L343.72 112.70L335.12 112.70Z" fill="#008080" stroke="none"/><path d="M342.84 119.10L347.14 111.50L338.54 111.50Z" fill="#008080" stroke="none"/><path d="M346.25 119.41L350.55 111.81L341.95 111.81Z" fill="#008080" stroke="none"/><path d="M349.67 120.64L353.97 113.04L345.37 113.04Z" fill="#008080" stroke="none"/><path d="M353.08 119.17L357.38 111.57L348.78 111.57Z" fill="#008080" stroke="none"/><path d="M356.50 118.67L360.80 111.07L352.20 111.07Z" fill="#008080" stroke="none"/><path d="M359.92 119.82L364.22 112.22L355.62 112.22Z" fill="#008080" stroke="none"/><path d="M363.33 120.01L367.63 112.41L359.03 112.41Z" fill="#008080" stroke="none"/><path d="M366.75 119.55L371.05 111.95L362.45 111.95Z" fill="#008080" stroke="none"/><path d="M370.16 118.76L374.46 111.16L365.86 111.16Z" fill="#008080" stroke="none"/><path d="M373.58 120.26L377.88 112.66L369.28 112.66Z" fill="#008080" stroke="none"/><path d="M377.00 120.19L381.30 112.59L372.70 112.59Z" fill="#008080" stroke="none"/><path d="M380.41 120.46L384.71 112.86L376.11 112.86Z" fill="#008080" stroke="none"/><path d="M383.83 119.53L388.13 111.93L379.53 111.93Z" fill="#008080" stroke="none"/><path d="M387.24 119.90L391.54 112.30L382.94 112.30Z" fill="#008080" stroke="none"/><path d="M390.66 120.38L394.96 112.78L386.36 112.78Z" fill="#008080" stroke="none"/><path d="M394.08 120.12L398.38 112.52L389.78 112.52Z" fill="#008080" stroke="none"/><path d="M397.49 120.91L401.79 113.31L393.19 113.31Z" fill="#008080" stroke="none"/><path d="M400.91 120.32L405.21 112.72L396.61 112.72Z" fill="#008080" stroke="none"/><path d="M404.32 118.89L408.62 111.29L400.02 111.29Z" fill="#008080" stroke="none"/><path d="M407.74 119.77L412.04 112.17L403.44 112.17Z" fill="#008080" stroke="none"/><path d="M411.16 120.45L415.46 112.85L406.86 112.85Z" fill="#008080" stroke="none"/><path d="M414.57 119.05L418.87 111.45L410.27 111.45Z" fill="#008080" stroke="none"/><path d="M417.99 120.33L422.29 112.73L413.69 112.73Z" fill="#008080" stroke="none"/><path d="M421.40 120.59L425.70 112.99L417.10 112.99Z" fill="#008080" stroke="none"/><path d="M424.82 121.08L429.12 113.48L420.52 113.48Z" fill="#008080" stroke="none"/><path d="M428.24 120.86L432.54 113.26L423.94 113.26Z" fill="#008080" stroke="none"/><path d="M431.65 120.77L435.95 113.17L427.35 113.17Z" fill="#008080" stroke="none"/><path d="M435.07 120.72L439.37 113.12L430.77 113.12Z" fill="#008080" stroke="none"/><path d="M438.48 119.34L442.78 111.74L434.18 111.74Z" fill="#008080" stroke="none"/><path d="M441.90 120.69L446.20 113.09L437.60 113.09Z" fill="#008080" stroke="none"/><rect x="66.30" y="40.90" width="409.60" height="304.70" fill="none" stroke="#1c1c1c" stroke-width="1.6"/><line x1="60.10" y1="345.60" x2="66.30" y2="345.60" stroke="#1c1c1c" stroke-width="1.6"/><line x1="60.10" y1="302.07" x2="66.30" y2="302.07" stroke="#1c1c1c" stroke-width="1.6"/><line x1="60.10" y1="258.54" x2="66.30" y2="258.54" stroke="#1c1c1c" stroke-width="1.6"/><line x1="60.10" y1="215.01" x2="66.30" y2="215.01" stroke="#1c1c1c" stroke-width="1.6"/><line x1="60.10" y1="171.49" x2="66.30" y2="171.49" stroke="#1c1c1c" stroke-width="1.6"/><line x1="60.10" y1="127.96" x2="66.30" y2="127.96" stroke="#1c1c1c" stroke-width="1.6"/><line x1="60.10" y1="84.43" x2="66.30" y2="84.43" stroke="#1c1c1c" stroke-width="1.6"/><line x1="60.10" y1="40.90" x2="66.30" y2="40.90" stroke="#1c1c1c" stroke-width="1.6"/><line x1="62.70" y1="323.84" x2="66.30" y2="323.84" stroke="#1c1c1c" stroke-width="1.6"/><line x1="62.70" y1="280.31" x2="66.30" y2="280.31" stroke="#1c1c1c" stroke-width="1.6"/><line x1="62.70" y1="236.78" x2="66.30" y2="236.78" stroke="#1c1c1c" stroke-width="1.6"/><line x1="62.70" y1="193.25" x2="66.30" y2="193.25" stroke="#1c1c1c" stroke-width="1.6"/><line x1="62.70" y1="149.72" x2="66.30" y2="149.72" stroke="#1c1c1c" stroke-width="1.6"/><line x1="62.70" y1="106.19" x2="66.30" y2="106.19" stroke="#1c1c1c" stroke-width="1.6"/><line x1="62.70" y1="62.66" x2="66.30" y2="62.66" stroke="#1c1c1c" stroke-width="1.6"/><line x1="100.30" y1="345.60" x2="100.30" y2="351.80" stroke="#1c1c1c" stroke-width="1.6"/><line x1="168.62" y1="345.60" x2="168.62" y2="351.80" stroke="#1c1c1c" stroke-width="1.6"/><line x1="236.94" y1="345.60" x2="236.94" y2="351.80" stroke="#1c1c1c" stroke-width="1.6"/><line x1="305.26" y1="345.60" x2="305.26" y2="351.80" stroke="#1c1c1c" stroke-width="1.6"/><line x1="373.58" y1="345.60" x2="373.58" y2="351.80" stroke="#1c1c1c" stroke-width="1.6"/><line x1="441.90" y1="345.60" x2="441.90" y2="351.80" stroke="#1c1c1c" stroke-width="1.6"/><line x1="66.14" y1="345.60" x2="66.14" y2="349.20" stroke="#1c1c1c" stroke-width="1.6"/><line x1="134.46" y1="345.60" x2="134.46" y2="349.20" stroke="#1c1c1c" stroke-width="1.6"/><line x1="202.78" y1="345.60" x2="202.78" y2="349.20" stroke="#1c1c1c" stroke-width="1.6"/><line x1="271.10" y1="345.60" x2="271.10" y2="349.20" stroke="#1c1c1c" stroke-width="1.6"/><line x1="339.42" y1="345.60" x2="339.42" y2="349.20" stroke="#1c1c1c" stroke-width="1.6"/><line x1="407.74" y1="345.60" x2="407.74" y2="349.20" stroke="#1c1c1c" stroke-width="1.6"/><line x1="476.06" y1="345.60" x2="476.06" y2="349.20" stroke="#1c1c1c" stroke-width="1.6"/><text x="56.50" y="351.80" text-anchor="end">0</text><text x="56.50" y="308.27" text-anchor="end">20</text><text x="56.50" y="264.74" text-anchor="end">40</text><text x="56.50" y="221.21" text-anchor="end">60</text><text x="56.50" y="177.69" text-anchor="end">80</text><text x="56.50" y="134.16" text-anchor="end">100</text><text x="56.50" y="90.63" text-anchor="end">120</text><text x="56.50" y="47.10" text-anchor="end">140</text><text x="100.30" y="370.2" text-anchor="middle">0</text><text x="168.62" y="370.2" text-anchor="middle">20</text><text x="236.94" y="370.2" text-anchor="middle">40</text><text x="305.26" y="370.2" text-anchor="middle">60</text><text x="373.58" y="370.2" text-anchor="middle">80</text><text x="441.90" y="370.2" text-anchor="middle">100</text><text transform="translate(24.80,309.50) rotate(-90)" text-anchor="start" font-size="18.6">Specific Capacity/mAh g<tspan dx="0" dy="-10.5">-1</tspan></text><text x="271.1" y="400.9" text-anchor="middle">Cycle</text><text x="404" y="70.8">25<tspan font-size="12.5" dx="3.5" dy="-9.5">o</tspan><tspan dx="-0.5" dy="9.5">C</tspan></text><text x="109" y="225.3">Capacity rentention</text><line x1="104.60" y1="243.60" x2="127.20" y2="243.60" stroke="#555" stroke-width="1.1"/><rect x="112.50" y="240.20" width="6.8" height="6.8" fill="#000000" stroke="none"/><text x="133.00" y="247.80"><tspan>LiCoO</tspan><tspan dy="4.9">2</tspan></text><line x1="104.60" y1="271.60" x2="127.20" y2="271.60" stroke="#ff8080" stroke-width="1.1"/><circle cx="115.90" cy="271.60" r="4.0" fill="#ff0000" stroke="none"/><text x="131.00" y="276.20"><tspan>Li</tspan><tspan dy="4.9">0.97</tspan><tspan dy="-4.9">Na</tspan><tspan dy="4.9">0.03</tspan><tspan dy="-4.9">CoO</tspan><tspan dy="4.9">2</tspan></text><line x1="104.60" y1="299.20" x2="127.20" y2="299.20" stroke="#8080ff" stroke-width="1.1"/><path d="M115.90 294.79L120.20 302.39L111.60 302.39Z" fill="#0000ff" stroke="none"/><text x="131.00" y="303.80"><tspan>Li</tspan><tspan dy="4.9">0.99</tspan><tspan dy="-4.9">Zr</tspan><tspan dy="4.9">0.01</tspan><tspan dy="-4.9">CoO</tspan><tspan dy="4.9">2</tspan></text><line x1="104.60" y1="327.20" x2="127.20" y2="327.20" stroke="#60b0b0" stroke-width="1.1"/><path d="M115.90 331.61L120.20 324.01L111.60 324.01Z" fill="#008080" stroke="none"/><text x="131.00" y="331.80"><tspan>Li</tspan><tspan dy="4.9">0.99</tspan><tspan dy="-4.9">Nb</tspan><tspan dy="4.9">0.01</tspan><tspan dy="-4.9">CoO</tspan><tspan dy="4.9">2</tspan></text><text x="307.5" y="248.1">58%</text><text x="307.5" y="276.1">60%</text><text x="307.5" y="303.7">78%</text><text x="307.5" y="331.7">84%</text><rect x="614.90" y="88.36" width="6.8" height="6.8" fill="#000000" stroke="none"/><rect x="619.01" y="92.23" width="6.8" height="6.8" fill="#000000" stroke="none"/><rect x="623.11" y="97.12" width="6.8" height="6.8" fill="#000000" stroke="none"/><rect x="627.22" y="101.20" width="6.8" height="6.8" fill="#000000" stroke="none"/><rect x="631.32" y="105.46" width="6.8" height="6.8" fill="#000000" stroke="none"/><rect x="635.42" y="107.36" width="6.8" height="6.8" fill="#000000" stroke="none"/><rect x="639.53" y="110.24" width="6.8" height="6.8" fill="#000000" stroke="none"/><rect x="643.63" y="113.65" width="6.8" height="6.8" fill="#000000" stroke="none"/><rect x="647.74" y="114.90" width="6.8" height="6.8" fill="#000000" stroke="none"/><rect x="651.84" y="116.60" width="6.8" height="6.8" fill="#000000" stroke="none"/><rect x="655.94" y="118.24" width="6.8" height="6.8" fill="#000000" stroke="none"/><rect x="660.05" y="118.32" width="6.8" height="6.8" fill="#000000" stroke="none"/><rect x="664.15" y="118.68" width="6.8" height="6.8" fill="#000000" stroke="none"/><rect x="668.26" y="120.30" width="6.8" height="6.8" fill="#000000" stroke="none"/><rect x="672.36" y="119.91" width="6.8" height="6.8" fill="#000000" stroke="none"/><rect x="676.46" y="121.76" width="6.8" height="6.8" fill="#000000" stroke="none"/><rect x="680.57" y="122.63" width="6.8" height="6.8" fill="#000000" stroke="none"/><rect x="684.67" y="123.83" width="6.8" height="6.8" fill="#000000" stroke="none"/><rect x="688.78" y="123.04" width="6.8" height="6.8" fill="#000000" stroke="none"/><rect x="692.88" y="124.36" width="6.8" height="6.8" fill="#000000" stroke="none"/><rect x="696.98" y="123.69" width="6.8" height="6.8" fill="#000000" stroke="none"/><rect x="701.09" y="123.70" width="6.8" height="6.8" fill="#000000" stroke="none"/><rect x="705.19" y="124.28" width="6.8" height="6.8" fill="#000000" stroke="none"/><rect x="709.30" y="124.31" width="6.8" height="6.8" fill="#000000" stroke="none"/><rect x="713.40" y="124.56" width="6.8" height="6.8" fill="#000000" stroke="none"/><rect x="717.50" y="124.79" width="6.8" height="6.8" fill="#000000" stroke="none"/><rect x="721.61" y="122.90" width="6.8" height="6.8" fill="#000000" stroke="none"/><rect x="725.71" y="123.48" width="6.8" height="6.8" fill="#000000" stroke="none"/><rect x="729.82" y="123.42" width="6.8" height="6.8" fill="#000000" stroke="none"/><rect x="733.92" y="121.83" width="6.8" height="6.8" fill="#000000" stroke="none"/><rect x="738.02" y="123.69" width="6.8" height="6.8" fill="#000000" stroke="none"/><rect x="742.13" y="122.94" width="6.8" height="6.8" fill="#000000" stroke="none"/><rect x="746.23" y="124.42" width="6.8" height="6.8" fill="#000000" stroke="none"/><rect x="750.34" y="124.90" width="6.8" height="6.8" fill="#000000" stroke="none"/><rect x="754.44" y="125.92" width="6.8" height="6.8" fill="#000000" stroke="none"/><rect x="758.54" y="125.58" width="6.8" height="6.8" fill="#000000" stroke="none"/><rect x="762.65" y="126.02" width="6.8" height="6.8" fill="#000000" stroke="none"/><rect x="766.75" y="126.19" width="6.8" height="6.8" fill="#000000" stroke="none"/><rect x="770.86" y="124.66" width="6.8" height="6.8" fill="#000000" stroke="none"/><rect x="774.96" y="125.67" width="6.8" height="6.8" fill="#000000" stroke="none"/><rect x="779.06" y="125.10" width="6.8" height="6.8" fill="#000000" stroke="none"/><rect x="783.17" y="126.47" width="6.8" height="6.8" fill="#000000" stroke="none"/><rect x="787.27" y="125.52" width="6.8" height="6.8" fill="#000000" stroke="none"/><rect x="791.38" y="126.02" width="6.8" height="6.8" fill="#000000" stroke="none"/><rect x="795.48" y="126.64" width="6.8" height="6.8" fill="#000000" stroke="none"/><rect x="799.58" y="127.00" width="6.8" height="6.8" fill="#000000" stroke="none"/><rect x="803.69" y="127.69" width="6.8" height="6.8" fill="#000000" stroke="none"/><rect x="807.79" y="127.81" width="6.8" height="6.8" fill="#000000" stroke="none"/><rect x="811.90" y="129.24" width="6.8" height="6.8" fill="#000000" stroke="none"/><rect x="816.00" y="129.09" width="6.8" height="6.8" fill="#000000" stroke="none"/><rect x="820.10" y="129.00" width="6.8" height="6.8" fill="#000000" stroke="none"/><rect x="824.21" y="130.60" width="6.8" height="6.8" fill="#000000" stroke="none"/><rect x="828.31" y="129.86" width="6.8" height="6.8" fill="#000000" stroke="none"/><rect x="832.42" y="130.43" width="6.8" height="6.8" fill="#000000" stroke="none"/><rect x="836.52" y="131.78" width="6.8" height="6.8" fill="#000000" stroke="none"/><rect x="840.62" y="132.37" width="6.8" height="6.8" fill="#000000" stroke="none"/><rect x="844.73" y="132.73" width="6.8" height="6.8" fill="#000000" stroke="none"/><rect x="848.83" y="133.36" width="6.8" height="6.8" fill="#000000" stroke="none"/><rect x="852.94" y="133.35" width="6.8" height="6.8" fill="#000000" stroke="none"/><rect x="857.04" y="135.60" width="6.8" height="6.8" fill="#000000" stroke="none"/><rect x="861.14" y="137.41" width="6.8" height="6.8" fill="#000000" stroke="none"/><rect x="865.25" y="138.48" width="6.8" height="6.8" fill="#000000" stroke="none"/><rect x="869.35" y="138.71" width="6.8" height="6.8" fill="#000000" stroke="none"/><rect x="873.46" y="139.73" width="6.8" height="6.8" fill="#000000" stroke="none"/><rect x="877.56" y="142.09" width="6.8" height="6.8" fill="#000000" stroke="none"/><rect x="881.66" y="143.60" width="6.8" height="6.8" fill="#000000" stroke="none"/><rect x="885.77" y="145.00" width="6.8" height="6.8" fill="#000000" stroke="none"/><rect x="889.87" y="146.09" width="6.8" height="6.8" fill="#000000" stroke="none"/><rect x="893.98" y="148.44" width="6.8" height="6.8" fill="#000000" stroke="none"/><rect x="898.08" y="149.20" width="6.8" height="6.8" fill="#000000" stroke="none"/><rect x="902.18" y="150.73" width="6.8" height="6.8" fill="#000000" stroke="none"/><rect x="906.29" y="152.05" width="6.8" height="6.8" fill="#000000" stroke="none"/><rect x="910.39" y="154.25" width="6.8" height="6.8" fill="#000000" stroke="none"/><rect x="914.50" y="155.69" width="6.8" height="6.8" fill="#000000" stroke="none"/><rect x="918.60" y="156.81" width="6.8" height="6.8" fill="#000000" stroke="none"/><rect x="922.70" y="157.94" width="6.8" height="6.8" fill="#000000" stroke="none"/><rect x="926.81" y="161.08" width="6.8" height="6.8" fill="#000000" stroke="none"/><rect x="930.91" y="162.78" width="6.8" height="6.8" fill="#000000" stroke="none"/><rect x="935.02" y="165.42" width="6.8" height="6.8" fill="#000000" stroke="none"/><rect x="939.12" y="167.91" width="6.8" height="6.8" fill="#000000" stroke="none"/><circle cx="618.30" cy="85.61" r="4.0" fill="#ff0000" stroke="none"/><circle cx="622.41" cy="88.91" r="4.0" fill="#ff0000" stroke="none"/><circle cx="626.51" cy="93.74" r="4.0" fill="#ff0000" stroke="none"/><circle cx="630.62" cy="93.79" r="4.0" fill="#ff0000" stroke="none"/><circle cx="634.72" cy="98.17" r="4.0" fill="#ff0000" stroke="none"/><circle cx="638.82" cy="96.35" r="4.0" fill="#ff0000" stroke="none"/><circle cx="642.93" cy="97.38" r="4.0" fill="#ff0000" stroke="none"/><circle cx="647.03" cy="101.74" r="4.0" fill="#ff0000" stroke="none"/><circle cx="651.14" cy="109.48" r="4.0" fill="#ff0000" stroke="none"/><circle cx="655.24" cy="113.31" r="4.0" fill="#ff0000" stroke="none"/><circle cx="659.34" cy="116.07" r="4.0" fill="#ff0000" stroke="none"/><circle cx="663.45" cy="120.41" r="4.0" fill="#ff0000" stroke="none"/><circle cx="667.55" cy="122.73" r="4.0" fill="#ff0000" stroke="none"/><circle cx="671.66" cy="124.19" r="4.0" fill="#ff0000" stroke="none"/><circle cx="675.76" cy="126.90" r="4.0" fill="#ff0000" stroke="none"/><circle cx="679.86" cy="127.76" r="4.0" fill="#ff0000" stroke="none"/><circle cx="683.97" cy="129.61" r="4.0" fill="#ff0000" stroke="none"/><circle cx="688.07" cy="132.42" r="4.0" fill="#ff0000" stroke="none"/><circle cx="692.18" cy="131.70" r="4.0" fill="#ff0000" stroke="none"/><circle cx="696.28" cy="133.42" r="4.0" fill="#ff0000" stroke="none"/><circle cx="700.38" cy="138.38" r="4.0" fill="#ff0000" stroke="none"/><circle cx="704.49" cy="142.67" r="4.0" fill="#ff0000" stroke="none"/><circle cx="708.59" cy="143.95" r="4.0" fill="#ff0000" stroke="none"/><circle cx="712.70" cy="147.26" r="4.0" fill="#ff0000" stroke="none"/><circle cx="716.80" cy="149.20" r="4.0" fill="#ff0000" stroke="none"/><circle cx="720.90" cy="151.75" r="4.0" fill="#ff0000" stroke="none"/><circle cx="725.01" cy="153.17" r="4.0" fill="#ff0000" stroke="none"/><circle cx="729.11" cy="155.86" r="4.0" fill="#ff0000" stroke="none"/><circle cx="733.22" cy="157.40" r="4.0" fill="#ff0000" stroke="none"/><circle cx="737.32" cy="159.05" r="4.0" fill="#ff0000" stroke="none"/><circle cx="741.42" cy="160.32" r="4.0" fill="#ff0000" stroke="none"/><circle cx="745.53" cy="160.46" r="4.0" fill="#ff0000" stroke="none"/><circle cx="749.63" cy="163.82" r="4.0" fill="#ff0000" stroke="none"/><circle cx="753.74" cy="165.97" r="4.0" fill="#ff0000" stroke="none"/><circle cx="757.84" cy="168.76" r="4.0" fill="#ff0000" stroke="none"/><circle cx="761.94" cy="169.85" r="4.0" fill="#ff0000" stroke="none"/><circle cx="766.05" cy="174.92" r="4.0" fill="#ff0000" stroke="none"/><circle cx="770.15" cy="178.45" r="4.0" fill="#ff0000" stroke="none"/><circle cx="774.26" cy="179.09" r="4.0" fill="#ff0000" stroke="none"/><circle cx="778.36" cy="180.44" r="4.0" fill="#ff0000" stroke="none"/><circle cx="782.46" cy="183.85" r="4.0" fill="#ff0000" stroke="none"/><circle cx="786.57" cy="184.51" r="4.0" fill="#ff0000" stroke="none"/><circle cx="790.67" cy="186.38" r="4.0" fill="#ff0000" stroke="none"/><circle cx="794.78" cy="185.23" r="4.0" fill="#ff0000" stroke="none"/><circle cx="798.88" cy="186.92" r="4.0" fill="#ff0000" stroke="none"/><circle cx="802.98" cy="186.78" r="4.0" fill="#ff0000" stroke="none"/><circle cx="807.09" cy="187.35" r="4.0" fill="#ff0000" stroke="none"/><circle cx="811.19" cy="188.98" r="4.0" fill="#ff0000" stroke="none"/><circle cx="815.30" cy="190.22" r="4.0" fill="#ff0000" stroke="none"/><circle cx="819.40" cy="192.75" r="4.0" fill="#ff0000" stroke="none"/><circle cx="823.50" cy="193.81" r="4.0" fill="#ff0000" stroke="none"/><circle cx="827.61" cy="194.57" r="4.0" fill="#ff0000" stroke="none"/><circle cx="831.71" cy="195.21" r="4.0" fill="#ff0000" stroke="none"/><circle cx="835.82" cy="196.12" r="4.0" fill="#ff0000" stroke="none"/><circle cx="839.92" cy="197.79" r="4.0" fill="#ff0000" stroke="none"/><circle cx="844.02" cy="199.25" r="4.0" fill="#ff0000" stroke="none"/><circle cx="848.13" cy="198.63" r="4.0" fill="#ff0000" stroke="none"/><circle cx="852.23" cy="198.85" r="4.0" fill="#ff0000" stroke="none"/><circle cx="856.34" cy="201.98" r="4.0" fill="#ff0000" stroke="none"/><circle cx="860.44" cy="201.08" r="4.0" fill="#ff0000" stroke="none"/><circle cx="864.54" cy="203.71" r="4.0" fill="#ff0000" stroke="none"/><circle cx="868.65" cy="206.89" r="4.0" fill="#ff0000" stroke="none"/><circle cx="872.75" cy="208.02" r="4.0" fill="#ff0000" stroke="none"/><circle cx="876.86" cy="207.93" r="4.0" fill="#ff0000" stroke="none"/><circle cx="880.96" cy="208.94" r="4.0" fill="#ff0000" stroke="none"/><circle cx="885.06" cy="210.98" r="4.0" fill="#ff0000" stroke="none"/><circle cx="889.17" cy="212.44" r="4.0" fill="#ff0000" stroke="none"/><circle cx="893.27" cy="214.33" r="4.0" fill="#ff0000" stroke="none"/><circle cx="897.38" cy="213.81" r="4.0" fill="#ff0000" stroke="none"/><circle cx="901.48" cy="217.42" r="4.0" fill="#ff0000" stroke="none"/><circle cx="905.58" cy="218.72" r="4.0" fill="#ff0000" stroke="none"/><circle cx="909.69" cy="221.27" r="4.0" fill="#ff0000" stroke="none"/><circle cx="913.79" cy="223.44" r="4.0" fill="#ff0000" stroke="none"/><circle cx="917.90" cy="224.79" r="4.0" fill="#ff0000" stroke="none"/><circle cx="922.00" cy="226.57" r="4.0" fill="#ff0000" stroke="none"/><circle cx="926.10" cy="228.32" r="4.0" fill="#ff0000" stroke="none"/><circle cx="930.21" cy="228.65" r="4.0" fill="#ff0000" stroke="none"/><circle cx="934.31" cy="229.68" r="4.0" fill="#ff0000" stroke="none"/><circle cx="938.42" cy="231.60" r="4.0" fill="#ff0000" stroke="none"/><circle cx="942.52" cy="234.16" r="4.0" fill="#ff0000" stroke="none"/><path d="M618.30 91.25L622.60 98.85L614.00 98.85Z" fill="#0000ff" stroke="none"/><path d="M622.41 94.47L626.71 102.07L618.11 102.07Z" fill="#0000ff" stroke="none"/><path d="M626.51 97.84L630.81 105.44L622.21 105.44Z" fill="#0000ff" stroke="none"/><path d="M630.62 101.97L634.92 109.57L626.32 109.57Z" fill="#0000ff" stroke="none"/><path d="M634.72 103.80L639.02 111.40L630.42 111.40Z" fill="#0000ff" stroke="none"/><path d="M638.82 108.45L643.12 116.05L634.52 116.05Z" fill="#0000ff" stroke="none"/><path d="M642.93 112.61L647.23 120.21L638.63 120.21Z" fill="#0000ff" stroke="none"/><path d="M647.03 115.85L651.33 123.45L642.73 123.45Z" fill="#0000ff" stroke="none"/><path d="M651.14 118.28L655.44 125.88L646.84 125.88Z" fill="#0000ff" stroke="none"/><path d="M655.24 120.38L659.54 127.98L650.94 127.98Z" fill="#0000ff" stroke="none"/><path d="M659.34 122.78L663.64 130.38L655.04 130.38Z" fill="#0000ff" stroke="none"/><path d="M663.45 124.39L667.75 131.99L659.15 131.99Z" fill="#0000ff" stroke="none"/><path d="M667.55 127.15L671.85 134.75L663.25 134.75Z" fill="#0000ff" stroke="none"/><path d="M671.66 129.06L675.96 136.66L667.36 136.66Z" fill="#0000ff" stroke="none"/><path d="M675.76 128.95L680.06 136.55L671.46 136.55Z" fill="#0000ff" stroke="none"/><path d="M679.86 130.43L684.16 138.03L675.56 138.03Z" fill="#0000ff" stroke="none"/><path d="M683.97 131.25L688.27 138.85L679.67 138.85Z" fill="#0000ff" stroke="none"/><path d="M688.07 131.85L692.37 139.45L683.77 139.45Z" fill="#0000ff" stroke="none"/><path d="M692.18 132.88L696.48 140.48L687.88 140.48Z" fill="#0000ff" stroke="none"/><path d="M696.28 133.79L700.58 141.39L691.98 141.39Z" fill="#0000ff" stroke="none"/><path d="M700.38 132.90L704.68 140.50L696.08 140.50Z" fill="#0000ff" stroke="none"/><path d="M704.49 133.62L708.79 141.22L700.19 141.22Z" fill="#0000ff" stroke="none"/><path d="M708.59 133.61L712.89 141.21L704.29 141.21Z" fill="#0000ff" stroke="none"/><path d="M712.70 133.79L717.00 141.39L708.40 141.39Z" fill="#0000ff" stroke="none"/><path d="M716.80 133.29L721.10 140.89L712.50 140.89Z" fill="#0000ff" stroke="none"/><path d="M720.90 134.45L725.20 142.05L716.60 142.05Z" fill="#0000ff" stroke="none"/><path d="M725.01 133.87L729.31 141.47L720.71 141.47Z" fill="#0000ff" stroke="none"/><path d="M729.11 134.66L733.41 142.26L724.81 142.26Z" fill="#0000ff" stroke="none"/><path d="M733.22 134.41L737.52 142.01L728.92 142.01Z" fill="#0000ff" stroke="none"/><path d="M737.32 134.37L741.62 141.97L733.02 141.97Z" fill="#0000ff" stroke="none"/><path d="M741.42 134.86L745.72 142.46L737.12 142.46Z" fill="#0000ff" stroke="none"/><path d="M745.53 135.15L749.83 142.75L741.23 142.75Z" fill="#0000ff" stroke="none"/><path d="M749.63 134.37L753.93 141.97L745.33 141.97Z" fill="#0000ff" stroke="none"/><path d="M753.74 133.83L758.04 141.43L749.44 141.43Z" fill="#0000ff" stroke="none"/><path d="M757.84 133.95L762.14 141.55L753.54 141.55Z" fill="#0000ff" stroke="none"/><path d="M761.94 134.09L766.24 141.69L757.64 141.69Z" fill="#0000ff" stroke="none"/><path d="M766.05 133.64L770.35 141.24L761.75 141.24Z" fill="#0000ff" stroke="none"/><path d="M770.15 134.33L774.45 141.93L765.85 141.93Z" fill="#0000ff" stroke="none"/><path d="M774.26 134.23L778.56 141.83L769.96 141.83Z" fill="#0000ff" stroke="none"/><path d="M778.36 133.87L782.66 141.47L774.06 141.47Z" fill="#0000ff" stroke="none"/><path d="M782.46 132.99L786.76 140.59L778.16 140.59Z" fill="#0000ff" stroke="none"/><path d="M786.57 134.05L790.87 141.65L782.27 141.65Z" fill="#0000ff" stroke="none"/><path d="M790.67 134.17L794.97 141.77L786.37 141.77Z" fill="#0000ff" stroke="none"/><path d="M794.78 134.17L799.08 141.77L790.48 141.77Z" fill="#0000ff" stroke="none"/><path d="M798.88 134.25L803.18 141.85L794.58 141.85Z" fill="#0000ff" stroke="none"/><path d="M802.98 133.82L807.28 141.42L798.68 141.42Z" fill="#0000ff" stroke="none"/><path d="M807.09 133.28L811.39 140.88L802.79 140.88Z" fill="#0000ff" stroke="none"/><path d="M811.19 132.83L815.49 140.43L806.89 140.43Z" fill="#0000ff" stroke="none"/><path d="M815.30 133.66L819.60 141.26L811.00 141.26Z" fill="#0000ff" stroke="none"/><path d="M819.40 133.57L823.70 141.17L815.10 141.17Z" fill="#0000ff" stroke="none"/><path d="M823.50 133.69L827.80 141.29L819.20 141.29Z" fill="#0000ff" stroke="none"/><path d="M827.61 133.64L831.91 141.24L823.31 141.24Z" fill="#0000ff" stroke="none"/><path d="M831.71 132.79L836.01 140.39L827.41 140.39Z" fill="#0000ff" stroke="none"/><path d="M835.82 133.17L840.12 140.77L831.52 140.77Z" fill="#0000ff" stroke="none"/><path d="M839.92 133.65L844.22 141.25L835.62 141.25Z" fill="#0000ff" stroke="none"/><path d="M844.02 133.90L848.32 141.50L839.72 141.50Z" fill="#0000ff" stroke="none"/><path d="M848.13 132.70L852.43 140.30L843.83 140.30Z" fill="#0000ff" stroke="none"/><path d="M852.23 132.81L856.53 140.41L847.93 140.41Z" fill="#0000ff" stroke="none"/><path d="M856.34 132.58L860.64 140.18L852.04 140.18Z" fill="#0000ff" stroke="none"/><path d="M860.44 133.58L864.74 141.18L856.14 141.18Z" fill="#0000ff" stroke="none"/><path d="M864.54 133.08L868.84 140.68L860.24 140.68Z" fill="#0000ff" stroke="none"/><path d="M868.65 132.46L872.95 140.06L864.35 140.06Z" fill="#0000ff" stroke="none"/><path d="M872.75 133.06L877.05 140.66L868.45 140.66Z" fill="#0000ff" stroke="none"/><path d="M876.86 132.48L881.16 140.08L872.56 140.08Z" fill="#0000ff" stroke="none"/><path d="M880.96 133.87L885.26 141.47L876.66 141.47Z" fill="#0000ff" stroke="none"/><path d="M885.06 132.49L889.36 140.09L880.76 140.09Z" fill="#0000ff" stroke="none"/><path d="M889.17 134.13L893.47 141.73L884.87 141.73Z" fill="#0000ff" stroke="none"/><path d="M893.27 133.53L897.57 141.13L888.97 141.13Z" fill="#0000ff" stroke="none"/><path d="M897.38 134.25L901.68 141.85L893.08 141.85Z" fill="#0000ff" stroke="none"/><path d="M901.48 132.91L905.78 140.51L897.18 140.51Z" fill="#0000ff" stroke="none"/><path d="M905.58 133.16L909.88 140.76L901.28 140.76Z" fill="#0000ff" stroke="none"/><path d="M909.69 132.69L913.99 140.29L905.39 140.29Z" fill="#0000ff" stroke="none"/><path d="M913.79 133.02L918.09 140.62L909.49 140.62Z" fill="#0000ff" stroke="none"/><path d="M917.90 132.80L922.20 140.40L913.60 140.40Z" fill="#0000ff" stroke="none"/><path d="M922.00 133.55L926.30 141.15L917.70 141.15Z" fill="#0000ff" stroke="none"/><path d="M926.10 132.80L930.40 140.40L921.80 140.40Z" fill="#0000ff" stroke="none"/><path d="M930.21 133.25L934.51 140.85L925.91 140.85Z" fill="#0000ff" stroke="none"/><path d="M934.31 133.98L938.61 141.58L930.01 141.58Z" fill="#0000ff" stroke="none"/><path d="M938.42 132.92L942.72 140.52L934.12 140.52Z" fill="#0000ff" stroke="none"/><path d="M942.52 133.99L946.82 141.59L938.22 141.59Z" fill="#0000ff" stroke="none"/><path d="M618.30 103.70L622.60 96.10L614.00 96.10Z" fill="#008080" stroke="none"/><path d="M622.41 105.66L626.71 98.06L618.11 98.06Z" fill="#008080" stroke="none"/><path d="M626.51 108.98L630.81 101.38L622.21 101.38Z" fill="#008080" stroke="none"/><path d="M630.62 109.73L634.92 102.13L626.32 102.13Z" fill="#008080" stroke="none"/><path d="M634.72 114.35L639.02 106.75L630.42 106.75Z" fill="#008080" stroke="none"/><path d="M638.82 116.74L643.12 109.14L634.52 109.14Z" fill="#008080" stroke="none"/><path d="M642.93 119.58L647.23 111.98L638.63 111.98Z" fill="#008080" stroke="none"/><path d="M647.03 119.65L651.33 112.05L642.73 112.05Z" fill="#008080" stroke="none"/><path d="M651.14 121.94L655.44 114.34L646.84 114.34Z" fill="#008080" stroke="none"/><path d="M655.24 122.21L659.54 114.61L650.94 114.61Z" fill="#008080" stroke="none"/><path d="M659.34 122.99L663.64 115.39L655.04 115.39Z" fill="#008080" stroke="none"/><path d="M663.45 123.72L667.75 116.12L659.15 116.12Z" fill="#008080" stroke="none"/><path d="M667.55 125.10L671.85 117.50L663.25 117.50Z" fill="#008080" stroke="none"/><path d="M671.66 124.91L675.96 117.31L667.36 117.31Z" fill="#008080" stroke="none"/><path d="M675.76 124.99L680.06 117.39L671.46 117.39Z" fill="#008080" stroke="none"/><path d="M679.86 126.80L684.16 119.20L675.56 119.20Z" fill="#008080" stroke="none"/><path d="M683.97 126.39L688.27 118.79L679.67 118.79Z" fill="#008080" stroke="none"/><path d="M688.07 125.91L692.37 118.31L683.77 118.31Z" fill="#008080" stroke="none"/><path d="M692.18 125.91L696.48 118.31L687.88 118.31Z" fill="#008080" stroke="none"/><path d="M696.28 126.04L700.58 118.44L691.98 118.44Z" fill="#008080" stroke="none"/><path d="M700.38 125.90L704.68 118.30L696.08 118.30Z" fill="#008080" stroke="none"/><path d="M704.49 124.39L708.79 116.79L700.19 116.79Z" fill="#008080" stroke="none"/><path d="M708.59 124.96L712.89 117.36L704.29 117.36Z" fill="#008080" stroke="none"/><path d="M712.70 122.84L717.00 115.24L708.40 115.24Z" fill="#008080" stroke="none"/><path d="M716.80 121.76L721.10 114.16L712.50 114.16Z" fill="#008080" stroke="none"/><path d="M720.90 122.93L725.20 115.33L716.60 115.33Z" fill="#008080" stroke="none"/><path d="M725.01 122.61L729.31 115.01L720.71 115.01Z" fill="#008080" stroke="none"/><path d="M729.11 122.63L733.41 115.03L724.81 115.03Z" fill="#008080" stroke="none"/><path d="M733.22 122.19L737.52 114.59L728.92 114.59Z" fill="#008080" stroke="none"/><path d="M737.32 122.48L741.62 114.88L733.02 114.88Z" fill="#008080" stroke="none"/><path d="M741.42 121.54L745.72 113.94L737.12 113.94Z" fill="#008080" stroke="none"/><path d="M745.53 121.46L749.83 113.86L741.23 113.86Z" fill="#008080" stroke="none"/><path d="M749.63 122.50L753.93 114.90L745.33 114.90Z" fill="#008080" stroke="none"/><path d="M753.74 121.47L758.04 113.87L749.44 113.87Z" fill="#008080" stroke="none"/><path d="M757.84 122.89L762.14 115.29L753.54 115.29Z" fill="#008080" stroke="none"/><path d="M761.94 122.95L766.24 115.35L757.64 115.35Z" fill="#008080" stroke="none"/><path d="M766.05 122.07L770.35 114.47L761.75 114.47Z" fill="#008080" stroke="none"/><path d="M770.15 121.94L774.45 114.34L765.85 114.34Z" fill="#008080" stroke="none"/><path d="M774.26 122.02L778.56 114.42L769.96 114.42Z" fill="#008080" stroke="none"/><path d="M778.36 121.82L782.66 114.22L774.06 114.22Z" fill="#008080" stroke="none"/><path d="M782.46 122.16L786.76 114.56L778.16 114.56Z" fill="#008080" stroke="none"/><path d="M786.57 123.30L790.87 115.70L782.27 115.70Z" fill="#008080" stroke="none"/><path d="M790.67 122.58L794.97 114.98L786.37 114.98Z" fill="#008080" stroke="none"/><path d="M794.78 122.47L799.08 114.87L790.48 114.87Z" fill="#008080" stroke="none"/><path d="M798.88 124.13L803.18 116.53L794.58 116.53Z" fill="#008080" stroke="none"/><path d="M802.98 123.64L807.28 116.04L798.68 116.04Z" fill="#008080" stroke="none"/><path d="M807.09 124.44L811.39 116.84L802.79 116.84Z" fill="#008080" stroke="none"/><path d="M811.19 124.66L815.49 117.06L806.89 117.06Z" fill="#008080" stroke="none"/><path d="M815.30 124.29L819.60 116.69L811.00 116.69Z" fill="#008080" stroke="none"/><path d="M819.40 124.05L823.70 116.45L815.10 116.45Z" fill="#008080" stroke="none"/><path d="M823.50 123.57L827.80 115.97L819.20 115.97Z" fill="#008080" stroke="none"/><path d="M827.61 125.09L831.91 117.49L823.31 117.49Z" fill="#008080" stroke="none"/><path d="M831.71 124.48L836.01 116.88L827.41 116.88Z" fill="#008080" stroke="none"/><path d="M835.82 123.68L840.12 116.08L831.52 116.08Z" fill="#008080" stroke="none"/><path d="M839.92 124.13L844.22 116.53L835.62 116.53Z" fill="#008080" stroke="none"/><path d="M844.02 124.59L848.32 116.99L839.72 116.99Z" fill="#008080" stroke="none"/><path d="M848.13 125.14L852.43 117.54L843.83 117.54Z" fill="#008080" stroke="none"/><path d="M852.23 124.51L856.53 116.91L847.93 116.91Z" fill="#008080" stroke="none"/><path d="M856.34 125.20L860.64 117.60L852.04 117.60Z" fill="#008080" stroke="none"/><path d="M860.44 124.59L864.74 116.99L856.14 116.99Z" fill="#008080" stroke="none"/><path d="M864.54 124.63L868.84 117.03L860.24 117.03Z" fill="#008080" stroke="none"/><path d="M868.65 125.13L872.95 117.53L864.35 117.53Z" fill="#008080" stroke="none"/><path d="M872.75 124.49L877.05 116.89L868.45 116.89Z" fill="#008080" stroke="none"/><path d="M876.86 125.26L881.16 117.66L872.56 117.66Z" fill="#008080" stroke="none"/><path d="M880.96 125.23L885.26 117.63L876.66 117.63Z" fill="#008080" stroke="none"/><path d="M885.06 124.69L889.36 117.09L880.76 117.09Z" fill="#008080" stroke="none"/><path d="M889.17 125.79L893.47 118.19L884.87 118.19Z" fill="#008080" stroke="none"/><path d="M893.27 125.99L897.57 118.39L888.97 118.39Z" fill="#008080" stroke="none"/><path d="M897.38 125.40L901.68 117.80L893.08 117.80Z" fill="#008080" stroke="none"/><path d="M901.48 125.73L905.78 118.13L897.18 118.13Z" fill="#008080" stroke="none"/><path d="M905.58 125.05L909.88 117.45L901.28 117.45Z" fill="#008080" stroke="none"/><path d="M909.69 126.23L913.99 118.63L905.39 118.63Z" fill="#008080" stroke="none"/><path d="M913.79 128.45L918.09 120.85L909.49 120.85Z" fill="#008080" stroke="none"/><path d="M917.90 131.80L922.20 124.20L913.60 124.20Z" fill="#008080" stroke="none"/><path d="M922.00 131.92L926.30 124.32L917.70 124.32Z" fill="#008080" stroke="none"/><path d="M926.10 132.97L930.40 125.37L921.80 125.37Z" fill="#008080" stroke="none"/><path d="M930.21 133.54L934.51 125.94L925.91 125.94Z" fill="#008080" stroke="none"/><path d="M934.31 134.59L938.61 126.99L930.01 126.99Z" fill="#008080" stroke="none"/><path d="M938.42 137.45L942.72 129.85L934.12 129.85Z" fill="#008080" stroke="none"/><path d="M942.52 137.39L946.82 129.79L938.22 129.79Z" fill="#008080" stroke="none"/><rect x="573.50" y="40.90" width="409.80" height="304.70" fill="none" stroke="#1c1c1c" stroke-width="1.6"/><line x1="567.30" y1="345.60" x2="573.50" y2="345.60" stroke="#1c1c1c" stroke-width="1.6"/><line x1="567.30" y1="302.07" x2="573.50" y2="302.07" stroke="#1c1c1c" stroke-width="1.6"/><line x1="567.30" y1="258.54" x2="573.50" y2="258.54" stroke="#1c1c1c" stroke-width="1.6"/><line x1="567.30" y1="215.01" x2="573.50" y2="215.01" stroke="#1c1c1c" stroke-width="1.6"/><line x1="567.30" y1="171.49" x2="573.50" y2="171.49" stroke="#1c1c1c" stroke-width="1.6"/><line x1="567.30" y1="127.96" x2="573.50" y2="127.96" stroke="#1c1c1c" stroke-width="1.6"/><line x1="567.30" y1="84.43" x2="573.50" y2="84.43" stroke="#1c1c1c" stroke-width="1.6"/><line x1="567.30" y1="40.90" x2="573.50" y2="40.90" stroke="#1c1c1c" stroke-width="1.6"/><line x1="569.90" y1="323.84" x2="573.50" y2="323.84" stroke="#1c1c1c" stroke-width="1.6"/><line x1="569.90" y1="280.31" x2="573.50" y2="280.31" stroke="#1c1c1c" stroke-width="1.6"/><line x1="569.90" y1="236.78" x2="573.50" y2="236.78" stroke="#1c1c1c" stroke-width="1.6"/><line x1="569.90" y1="193.25" x2="573.50" y2="193.25" stroke="#1c1c1c" stroke-width="1.6"/><line x1="569.90" y1="149.72" x2="573.50" y2="149.72" stroke="#1c1c1c" stroke-width="1.6"/><line x1="569.90" y1="106.19" x2="573.50" y2="106.19" stroke="#1c1c1c" stroke-width="1.6"/><line x1="569.90" y1="62.66" x2="573.50" y2="62.66" stroke="#1c1c1c" stroke-width="1.6"/><line x1="614.20" y1="345.60" x2="614.20" y2="351.80" stroke="#1c1c1c" stroke-width="1.6"/><line x1="696.28" y1="345.60" x2="696.28" y2="351.80" stroke="#1c1c1c" stroke-width="1.6"/><line x1="778.36" y1="345.60" x2="778.36" y2="351.80" stroke="#1c1c1c" stroke-width="1.6"/><line x1="860.44" y1="345.60" x2="860.44" y2="351.80" stroke="#1c1c1c" stroke-width="1.6"/><line x1="942.52" y1="345.60" x2="942.52" y2="351.80" stroke="#1c1c1c" stroke-width="1.6"/><line x1="573.16" y1="345.60" x2="573.16" y2="349.20" stroke="#1c1c1c" stroke-width="1.6"/><line x1="655.24" y1="345.60" x2="655.24" y2="349.20" stroke="#1c1c1c" stroke-width="1.6"/><line x1="737.32" y1="345.60" x2="737.32" y2="349.20" stroke="#1c1c1c" stroke-width="1.6"/><line x1="819.40" y1="345.60" x2="819.40" y2="349.20" stroke="#1c1c1c" stroke-width="1.6"/><line x1="901.48" y1="345.60" x2="901.48" y2="349.20" stroke="#1c1c1c" stroke-width="1.6"/><line x1="983.56" y1="345.60" x2="983.56" y2="349.20" stroke="#1c1c1c" stroke-width="1.6"/><text x="563.50" y="351.80" text-anchor="end">0</text><text x="563.50" y="308.27" text-anchor="end">20</text><text x="563.50" y="264.74" text-anchor="end">40</text><text x="563.50" y="221.21" text-anchor="end">60</text><text x="563.50" y="177.69" text-anchor="end">80</text><text x="563.50" y="134.16" text-anchor="end">100</text><text x="563.50" y="90.63" text-anchor="end">120</text><text x="563.50" y="47.10" text-anchor="end">140</text><text x="614.20" y="370.2" text-anchor="middle">0</text><text x="696.28" y="370.2" text-anchor="middle">20</text><text x="778.36" y="370.2" text-anchor="middle">40</text><text x="860.44" y="370.2" text-anchor="middle">60</text><text x="942.52" y="370.2" text-anchor="middle">80</text><text transform="translate(531.80,309.50) rotate(-90)" text-anchor="start" font-size="18.6">Specific Capacity/mAh g<tspan dx="0" dy="-10.5">-1</tspan></text><text x="778.4" y="400.9" text-anchor="middle">Cycle</text><text x="917" y="69.1">55 <tspan font-size="16" dy="-8.5">o</tspan><tspan dx="2" dy="8.5">C</tspan></text><text x="585" y="209.5">Capacity retention</text><line x1="590.70" y1="236.60" x2="612.80" y2="236.60" stroke="#777" stroke-width="1.4"/><rect x="598.35" y="233.20" width="6.8" height="6.8" fill="#000000" stroke="none"/><text x="621.40" y="241.00"><tspan>LiCoO</tspan><tspan dy="4.9">2</tspan></text><line x1="590.70" y1="264.40" x2="612.80" y2="264.40" stroke="#ff9090" stroke-width="1.4"/><circle cx="601.75" cy="264.40" r="4.0" fill="#ff0000" stroke="none"/><text x="616.40" y="269.00"><tspan>Li</tspan><tspan dy="4.9">0.97</tspan><tspan dy="-4.9">Na</tspan><tspan dy="4.9">0.03</tspan><tspan dy="-4.9">CoO</tspan><tspan dy="4.9">2</tspan></text><line x1="590.70" y1="292.20" x2="612.80" y2="292.20" stroke="#9090ff" stroke-width="1.4"/><path d="M601.75 287.79L606.05 295.39L597.45 295.39Z" fill="#0000ff" stroke="none"/><text x="616.40" y="296.80"><tspan>Li</tspan><tspan dy="4.9">0.99</tspan><tspan dy="-4.9">Zr</tspan><tspan dy="4.9">0.01</tspan><tspan dy="-4.9">CoO</tspan><tspan dy="4.9">2</tspan></text><line x1="590.70" y1="320.00" x2="612.80" y2="320.00" stroke="#70b8b8" stroke-width="1.4"/><path d="M601.75 324.41L606.05 316.81L597.45 316.81Z" fill="#008080" stroke="none"/><text x="616.40" y="324.60"><tspan>Li</tspan><tspan dy="4.9">0.99</tspan><tspan dy="-4.9">Nb</tspan><tspan dy="4.9">0.01</tspan><tspan dy="-4.9">CoO</tspan><tspan dy="4.9">2</tspan></text><text x="793.5" y="241.1">68%</text><text x="792.2" y="268.9">42%</text><text x="793.5" y="296.7">85%</text><text x="793.5" y="324.5">87%</text></svg></body></html>
